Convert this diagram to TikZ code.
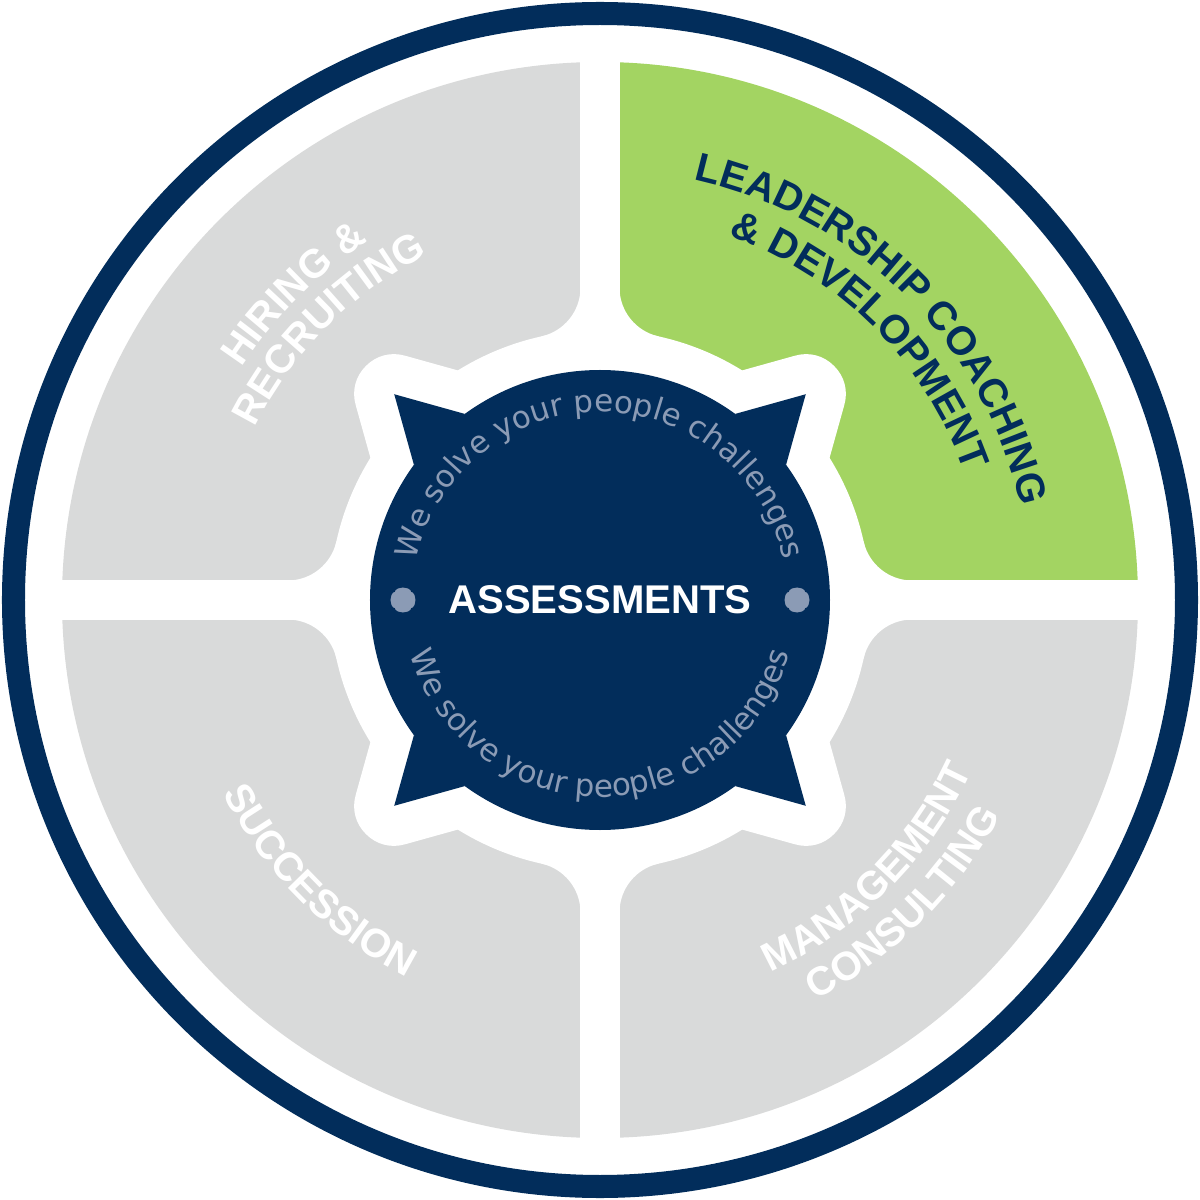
\documentclass[tikz,border=0pt]{standalone}
\usepackage{fontspec}
\setmainfont{Liberation Sans}
\newfontfamily\tagfont{DejaVu Sans}
\usetikzlibrary{decorations.text}

\definecolor{navy}{RGB}{2,45,91}
\definecolor{panelgray}{RGB}{217,218,218}
\definecolor{leafgreen}{RGB}{163,212,98}
\definecolor{mistblue}{RGB}{139,155,181}

\newcommand{\labelfont}{\fontsize{11.4}{13}\selectfont\bfseries}
\newcommand{\tagsize}{\tagfont\fontsize{8.8}{10}\selectfont}

\tikzset{
  arctext/.style 2 args={decorate, decoration={text along path, text align=center, text color=#1, text={#2}}},
}

\begin{document}
\begin{tikzpicture}[x=0.01cm, y=0.01cm]
\useasboundingbox (-600,-600) rectangle (600,600);

% outer ring
\draw[navy, line width=0.23cm] (0,0) circle (586.5);

% four panels
\begin{scope}
\clip (0,0) circle (538);
\fill[panelgray] (-600,19.5) rectangle (-19.5,600);
\fill[leafgreen] (19.5,19.5) rectangle (600,600);
\fill[panelgray] (-600,-600) rectangle (-19.5,-19.5);
\fill[panelgray] (19.5,-600) rectangle (600,-19.5);
\end{scope}

% white halo round the star, with rounded panel corners
\fill[white] (0,0) circle (270);
\foreach \a in {45,135,225,315}
  \filldraw[white, line width=0.8cm, line join=round] (\a-9:230) -- (\a:291) -- (\a+9:230) -- cycle;
\foreach \a in {0,90,180,270}
  \foreach \s in {1,-1}
    \fill[white, rotate=\a, xscale=\s] (19.5,312.4) arc[start angle=180, end angle=257.5, radius=50] -- (0,0) -- cycle;

% star
\fill[navy] (0,0) circle (230);
\foreach \a in {45,135,225,315}
  \fill[navy] (\a-9:230) -- (\a:291) -- (\a+9:230) -- cycle;

% dots
\foreach \x in {-197,197} {
  \fill[mistblue] (\x,0) circle (12.5);
  \foreach \a in {45,135,225,315}
    \fill[navy] ([shift={(\a:13.8)}]\x,0) circle (2.2);
}

\node[text=white, font=\labelfont] (assess) at (0,0) {ASSESSMENTS};

% tagline, top and bottom
\path[arctext={mistblue}{|\tagsize|We solve your people challenges}] (180:188) arc[start angle=180, end angle=0, radius=188];
\path[arctext={mistblue}{|\tagsize|We solve your people challenges}] (180:197) arc[start angle=180, end angle=360, radius=197];

% panel labels
\path[arctext={white}{|\labelfont|HIRING {\&}}] (180:427) arc[start angle=180, end angle=90, radius=427];
\path[arctext={white}{|\labelfont|RECRUITING}] (180:386) arc[start angle=180, end angle=90, radius=386];
\path[arctext={navy}{|\labelfont|LEADERSHIP COACHING}] (90:431) arc[start angle=90, end angle=0, radius=431];
\path[arctext={navy}{|\labelfont|{\&} DEVELOPMENT}] (90:386) arc[start angle=90, end angle=0, radius=386];
\path[arctext={white}{|\labelfont|SUCCESSION}] (180:424) arc[start angle=180, end angle=270, radius=424];
\path[arctext={white}{|\labelfont|MANAGEMENT}] (270:409) arc[start angle=270, end angle=360, radius=409];
\path[arctext={white}{|\labelfont|CONSULTING}] (270:455) arc[start angle=270, end angle=360, radius=455];

\end{tikzpicture}
\end{document}
